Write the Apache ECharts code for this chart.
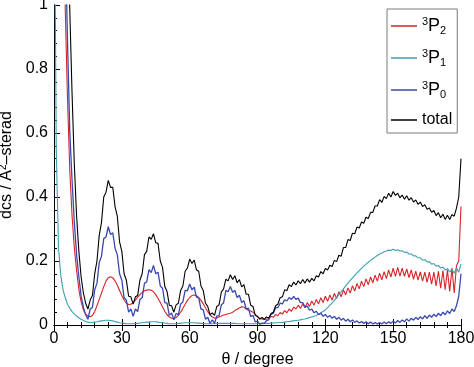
<!DOCTYPE html>
<html>
<head>
<meta charset="utf-8">
<script src="https://cdn.jsdelivr.net/npm/echarts@6/dist/echarts.min.js"></script>
<style>html,body{margin:0;padding:0;background:#fff}#c{width:474px;height:367px}</style>
</head>
<body>
<div id="c"></div>
<script>
// theta grid: 0..180 degrees, 1-degree steps
const theta = [];
for (let i = 0; i <= 180; i++) theta.push(i);

const xTicks = [0, 30, 60, 90, 120, 150, 180];
const yTicks = [0, 0.2, 0.4, 0.6, 0.8, 1];

const total = [
3, 3, 2.8, 2.5, 2.0, 1.6, 1.25, 0.98, 0.72, 0.5,
0.34, 0.23, 0.15, 0.1, 0.068, 0.05, 0.078, 0.092, 0.16, 0.2,
0.28, 0.32, 0.4, 0.415, 0.452, 0.43, 0.43, 0.37, 0.34, 0.26,
0.23, 0.16, 0.14, 0.09, 0.088, 0.065, 0.088, 0.092, 0.14, 0.16,
0.22, 0.23, 0.275, 0.268, 0.285, 0.257, 0.255, 0.2, 0.18, 0.12,
0.105, 0.062, 0.06, 0.04, 0.063, 0.068, 0.108, 0.122, 0.168, 0.178,
0.206, 0.192, 0.203, 0.172, 0.168, 0.122, 0.108, 0.068, 0.058, 0.032,
0.038, 0.03, 0.058, 0.063, 0.103, 0.113, 0.143, 0.138, 0.157, 0.142,
0.154, 0.132, 0.142, 0.119, 0.126, 0.096, 0.096, 0.062, 0.058, 0.03,
0.027, 0.018, 0.024, 0.018, 0.025, 0.022, 0.036, 0.04, 0.06, 0.065,
0.085, 0.088, 0.11, 0.108, 0.126, 0.12, 0.134, 0.125, 0.138, 0.129,
0.142, 0.131, 0.144, 0.134, 0.146, 0.138, 0.154, 0.15, 0.167, 0.16,
0.177, 0.172, 0.187, 0.183, 0.202, 0.198, 0.218, 0.215, 0.242, 0.242,
0.267, 0.264, 0.287, 0.285, 0.306, 0.303, 0.322, 0.318, 0.337, 0.333,
0.352, 0.352, 0.372, 0.372, 0.392, 0.383, 0.402, 0.395, 0.412, 0.4,
0.417, 0.405, 0.412, 0.398, 0.406, 0.393, 0.404, 0.39, 0.398, 0.384,
0.391, 0.377, 0.384, 0.37, 0.376, 0.362, 0.366, 0.352, 0.358, 0.342,
0.351, 0.335, 0.346, 0.33, 0.343, 0.33, 0.345, 0.34, 0.365, 0.4,
0.52];

const p2 = [
3, 3, 2.5, 1.8, 1.3, 0.98, 0.7, 0.48, 0.34, 0.24,
0.17, 0.11, 0.072, 0.048, 0.034, 0.028, 0.026, 0.03, 0.042, 0.06,
0.08, 0.1, 0.12, 0.137, 0.148, 0.151, 0.148, 0.138, 0.124, 0.108,
0.092, 0.078, 0.068, 0.064, 0.065, 0.07, 0.078, 0.087, 0.095, 0.102,
0.107, 0.109, 0.11, 0.109, 0.104, 0.095, 0.083, 0.07, 0.056, 0.043,
0.032, 0.025, 0.021, 0.02, 0.023, 0.03, 0.04, 0.052, 0.065, 0.077,
0.086, 0.092, 0.094, 0.092, 0.086, 0.077, 0.066, 0.054, 0.042, 0.032,
0.025, 0.022, 0.022, 0.025, 0.028, 0.031, 0.033, 0.035, 0.037, 0.04,
0.045, 0.049, 0.053, 0.057, 0.056, 0.05, 0.046, 0.044, 0.04, 0.033,
0.026, 0.021, 0.019, 0.017, 0.018, 0.02, 0.027, 0.024, 0.033, 0.029,
0.039, 0.034, 0.045, 0.038, 0.05, 0.043, 0.056, 0.05, 0.062, 0.052,
0.066, 0.054, 0.07, 0.058, 0.075, 0.062, 0.08, 0.066, 0.085, 0.07,
0.09, 0.074, 0.094, 0.078, 0.099, 0.083, 0.104, 0.088, 0.11, 0.094,
0.116, 0.1, 0.123, 0.106, 0.13, 0.113, 0.137, 0.12, 0.144, 0.126,
0.15, 0.132, 0.156, 0.137, 0.162, 0.141, 0.167, 0.145, 0.172, 0.15,
0.178, 0.152, 0.18, 0.153, 0.178, 0.152, 0.175, 0.148, 0.172, 0.143,
0.168, 0.14, 0.166, 0.137, 0.165, 0.133, 0.165, 0.128, 0.165, 0.122,
0.168, 0.115, 0.17, 0.11, 0.172, 0.105, 0.178, 0.1, 0.185, 0.2,
0.37];

const p1 = [
1.6, 0.55, 0.24, 0.155, 0.11, 0.085, 0.065, 0.052, 0.042, 0.034,
0.028, 0.022, 0.018, 0.014, 0.011, 0.009, 0.008, 0.008, 0.009, 0.01,
0.012, 0.013, 0.014, 0.015, 0.015, 0.014, 0.013, 0.011, 0.009, 0.007,
0.006, 0.005, 0.004, 0.004, 0.004, 0.004, 0.005, 0.005, 0.006, 0.007,
0.008, 0.009, 0.009, 0.01, 0.01, 0.01, 0.009, 0.008, 0.007, 0.006,
0.005, 0.004, 0.004, 0.004, 0.004, 0.005, 0.005, 0.006, 0.007, 0.007,
0.007, 0.007, 0.007, 0.006, 0.006, 0.005, 0.005, 0.004, 0.004, 0.004,
0.004, 0.005, 0.005, 0.005, 0.005, 0.005, 0.005, 0.005, 0.005, 0.005,
0.005, 0.004, 0.004, 0.004, 0.004, 0.004, 0.004, 0.004, 0.004, 0.004,
0.004, 0.004, 0.004, 0.005, 0.005, 0.005, 0.006, 0.006, 0.007, 0.007,
0.008, 0.008, 0.009, 0.01, 0.011, 0.012, 0.013, 0.014, 0.015, 0.016,
0.018, 0.019, 0.021, 0.023, 0.025, 0.027, 0.03, 0.034, 0.038, 0.042,
0.047, 0.054, 0.061, 0.069, 0.077, 0.086, 0.095, 0.104, 0.113, 0.122,
0.131, 0.139, 0.147, 0.155, 0.163, 0.17, 0.177, 0.184, 0.19, 0.196,
0.202, 0.207, 0.212, 0.217, 0.222, 0.225, 0.229, 0.231, 0.234, 0.233,
0.237, 0.233, 0.235, 0.231, 0.232, 0.227, 0.228, 0.222, 0.222, 0.216,
0.216, 0.21, 0.21, 0.203, 0.204, 0.197, 0.198, 0.19, 0.192, 0.184,
0.186, 0.178, 0.181, 0.172, 0.176, 0.166, 0.174, 0.162, 0.178, 0.165,
0.19];

const p0 = [
3, 3, 2.8, 2.2, 1.6, 1.2, 0.88, 0.6, 0.45, 0.32,
0.22, 0.15, 0.09, 0.055, 0.032, 0.018, 0.05, 0.055, 0.11, 0.13,
0.195, 0.215, 0.27, 0.275, 0.307, 0.283, 0.288, 0.24, 0.22, 0.16,
0.14, 0.085, 0.078, 0.04, 0.05, 0.027, 0.05, 0.042, 0.08, 0.085,
0.13, 0.135, 0.173, 0.164, 0.186, 0.16, 0.165, 0.122, 0.115, 0.07,
0.068, 0.03, 0.038, 0.016, 0.036, 0.032, 0.066, 0.072, 0.108, 0.107,
0.128, 0.11, 0.118, 0.087, 0.085, 0.05, 0.048, 0.018, 0.024, 0.005,
0.016, 0.006, 0.028, 0.029, 0.063, 0.069, 0.108, 0.104, 0.12, 0.102,
0.108, 0.086, 0.093, 0.07, 0.076, 0.05, 0.053, 0.026, 0.03, 0.01,
0.012, 0.003, 0.006, 0.005, 0.014, 0.016, 0.034, 0.036, 0.054, 0.054,
0.068, 0.066, 0.079, 0.075, 0.086, 0.08, 0.089, 0.08, 0.084, 0.07,
0.07, 0.056, 0.059, 0.046, 0.05, 0.038, 0.043, 0.032, 0.037, 0.027,
0.033, 0.024, 0.03, 0.021, 0.027, 0.018, 0.024, 0.015, 0.021, 0.012,
0.018, 0.01, 0.016, 0.008, 0.013, 0.006, 0.011, 0.005, 0.01, 0.004,
0.009, 0.003, 0.008, 0.003, 0.008, 0.003, 0.009, 0.004, 0.01, 0.005,
0.012, 0.006, 0.014, 0.008, 0.016, 0.01, 0.019, 0.012, 0.021, 0.015,
0.024, 0.017, 0.026, 0.019, 0.029, 0.021, 0.031, 0.024, 0.034, 0.026,
0.037, 0.029, 0.04, 0.032, 0.044, 0.036, 0.05, 0.042, 0.06, 0.09,
0.16];

const seriesNames = ['3P2', '3P1', '3P0', 'total'];
const seriesColors = ['#d8232a', '#3c9fb2', '#3a47b0', '#000000'];
const seriesData = [p2, p1, p0, total];

const FONT = 'Liberation Sans, Arial, Helvetica, sans-serif';
const chart = echarts.init(document.getElementById('c'), null, {renderer: 'canvas'});

function pairs(arr) { return theta.map((t, i) => [t, arr[i]]); }

const axisCommon = {
  min: 0,
  axisLine: {show: true, lineStyle: {color: '#000', width: 1}},
  splitLine: {show: false},
  minorTick: {show: true, splitNumber: 5, length: 3, lineStyle: {color: '#000', width: 1}},
};

const option = {
  animation: false,
  backgroundColor: '#fff',
  textStyle: {fontFamily: FONT},
  grid: {left: 54, right: 13, top: 5, bottom: 42, containLabel: false, outerBoundsMode: 'none'},
  xAxis: [
    Object.assign({}, axisCommon, {
      type: 'value', position: 'bottom', max: 180, interval: 30,
      axisTick: {show: true, inside: true, length: 6, lineStyle: {color: '#000'}},
      axisLabel: {show: true, color: '#000', fontSize: 16, fontFamily: FONT, margin: 6,
        formatter: v => xTicks.indexOf(v) >= 0 ? String(v) : ''},
      name: 'θ / degree', nameLocation: 'middle', nameGap: 22,
      nameTextStyle: {color: '#000', fontSize: 16, fontFamily: FONT}
    }),
    Object.assign({}, axisCommon, {
      type: 'value', position: 'top', max: 180, interval: 30,
      axisTick: {show: true, inside: true, length: 6, lineStyle: {color: '#000'}},
      axisLabel: {show: false}
    })
  ],
  yAxis: [
    Object.assign({}, axisCommon, {
      type: 'value', position: 'left', max: 1, interval: 0.2,
      axisTick: {show: true, inside: true, length: 6, lineStyle: {color: '#000'}},
      axisLabel: {show: true, color: '#000', fontSize: 16, fontFamily: FONT, margin: 6,
        padding: [3, 0, 0, 0],
        formatter: v => { const m = yTicks.find(t => Math.abs(t - v) < 1e-9); return m === undefined ? '' : String(m); }},
      name: 'dcs / A{sup|2}–sterad', nameLocation: 'middle', nameGap: 33, nameRotate: 90,
      nameTextStyle: {color: '#000', fontSize: 16, fontFamily: FONT,
        rich: {sup: {fontSize: 10, fontFamily: FONT, color: '#000', padding: [0, 0, 8, 0]}}}
    }),
    Object.assign({}, axisCommon, {
      type: 'value', position: 'right', max: 1, interval: 0.2,
      axisTick: {show: true, inside: false, length: 5, lineStyle: {color: '#000'}},
      axisLabel: {show: false}
    })
  ],
  legend: {
    show: true, orient: 'vertical', left: 387, top: 9,
    padding: [7, 5, 5, 4], itemGap: 12, itemWidth: 26, itemHeight: 1.5,
    backgroundColor: '#fff', borderColor: '#7a7a7a', borderWidth: 1, borderRadius: 0,
    icon: 'rect',
    data: seriesNames,
    formatter: name => {
      if (name === 'total') return '{t|total}';
      return '{sup|' + name.charAt(0) + '}{p|' + name.charAt(1) + '}{sub|' + name.charAt(2) + '}';
    },
    textStyle: {
      color: '#000', fontFamily: FONT, fontSize: 16,
      rich: {
        t: {fontSize: 16, fontFamily: FONT, color: '#000', lineHeight: 18},
        p: {fontSize: 18, fontFamily: FONT, color: '#000'},
        sup: {fontSize: 11, fontFamily: FONT, color: '#000', padding: [0, 0, 9, 0]},
        sub: {fontSize: 11, fontFamily: FONT, color: '#000', padding: [9, 0, 0, 0]}
      }
    }
  },
  series: seriesNames.map((n, k) => ({
    name: n, type: 'line', xAxisIndex: 0, yAxisIndex: 0,
    data: pairs(seriesData[k]),
    showSymbol: false, symbol: 'none', clip: true,
    lineStyle: {color: seriesColors[k], width: n === '3P0' ? 1.3 : 1.1},
    itemStyle: {color: seriesColors[k]},
    z: n === 'total' ? 3 : 2
  }))
};
chart.setOption(option);
</script>
</body>
</html>
